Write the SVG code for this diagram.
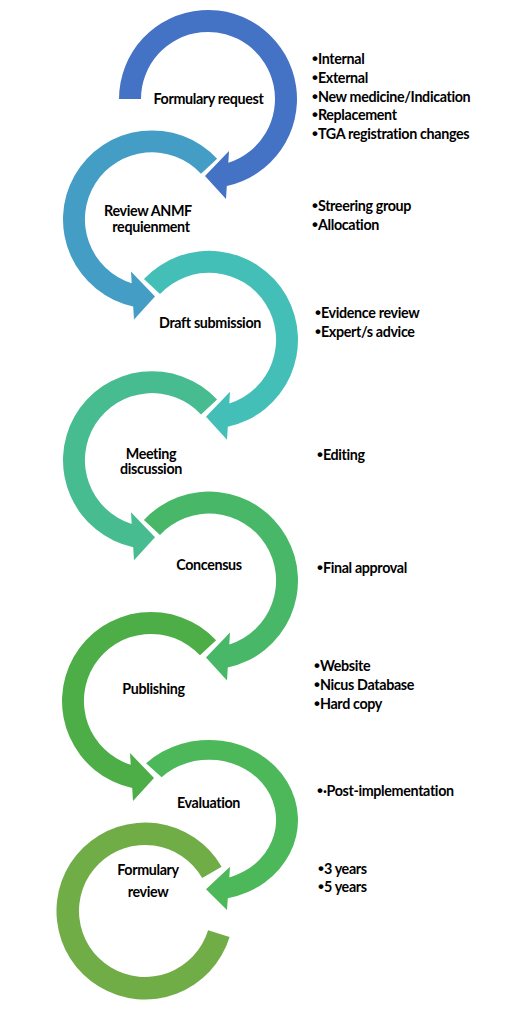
<svg xmlns="http://www.w3.org/2000/svg" width="514" height="1024" viewBox="0 0 514 1024">
<style>
text { font-family: Lato, 'Liberation Sans', sans-serif; font-weight: 700; font-size: 14.3px; letter-spacing: -0.35px; fill: #000; }
.c { text-anchor: middle; }
.b { font-family: 'Liberation Sans', sans-serif; font-size: 17px; letter-spacing: 0; }
</style>
<defs>
<path id="arrA" d="M -65.09 -60.70 A 89 89 0 1 1 18.8 87 L 18 100 L -3 77 L 21 52 L 20.3 63.8 A 67 67 0 1 0 -49.0 -45.69 Z"/>
</defs>
<rect width="514" height="1024" fill="#ffffff"/>
<g id="connectors"></g>
<g id="node1">
<path transform="translate(208,99)" fill="#4472C4" d="M -89 0 A 89 89 0 1 1 18.8 87 L 18 100 L -3 77 L 21 52 L 20.3 63.8 A 67 67 0 1 0 -67 0 Z"/>
<text class="c" x="208.5" y="104">Formulary request</text>
<text x="312" y="64"><tspan class="b">•</tspan>Internal</text>
<text x="312" y="82.8"><tspan class="b">•</tspan>External</text>
<text x="312" y="101.5"><tspan class="b">•</tspan>New medicine/Indication</text>
<text x="312" y="120.3"><tspan class="b">•</tspan>Replacement</text>
<text x="312" y="139"><tspan class="b">•</tspan>TGA registration changes</text>
</g>
<g id="node2">
<use href="#arrA" transform="translate(152,219.4) scale(-1,1)" fill="#439DC4"/>
<text class="c" x="148" y="216">Review ANMF</text>
<text class="c" x="151" y="232">requienment</text>
<text x="312" y="211"><tspan class="b">•</tspan>Streering group</text>
<text x="312" y="230"><tspan class="b">•</tspan>Allocation</text>
</g>
<g id="node3">
<use href="#arrA" transform="translate(209,339.8)" fill="#44BFB8"/>
<text class="c" x="210" y="328">Draft submission</text>
<text x="315" y="317.5"><tspan class="b">•</tspan>Evidence review</text>
<text x="315" y="336.5"><tspan class="b">•</tspan>Expert/s advice</text>
</g>
<g id="node4">
<use href="#arrA" transform="translate(152,460.2) scale(-1,1)" fill="#46BC90"/>
<text class="c" x="151" y="458.5">Meeting</text>
<text class="c" x="151" y="474">discussion</text>
<text x="317" y="460"><tspan class="b">•</tspan>Editing</text>
</g>
<g id="node5">
<use href="#arrA" transform="translate(209,580.6)" fill="#48B868"/>
<text class="c" x="209" y="570">Concensus</text>
<text x="317" y="572.5"><tspan class="b">•</tspan>Final approval</text>
</g>
<g id="node6">
<use href="#arrA" transform="translate(151,701) scale(-1,1)" fill="#4DAE48"/>
<text class="c" x="153.5" y="693.5">Publishing</text>
<text x="314" y="671"><tspan class="b">•</tspan>Website</text>
<text x="314" y="690"><tspan class="b">•</tspan>Nicus Database</text>
<text x="314" y="709"><tspan class="b">•</tspan>Hard copy</text>
</g>
<g id="node7">
<path transform="translate(209,820) scale(1,0.9)" fill="#4CB85A" d="M -62.93 -62.93 A 89 89 0 1 1 18.8 87 L 18 100 L -3 77 L 21 52 L 20.3 63.8 A 67 67 0 1 0 -47.38 -47.38 Z"/>
<text class="c" x="208.5" y="807.5">Evaluation</text>
<text x="317" y="796"><tspan class="b">•</tspan>·Post-implementation</text>
</g>
<g id="node8">
<path transform="translate(145,911)" fill="#70AD47" d="M 84.6 25.9 A 88.5 88.5 0 1 1 76.6 -44.25 L 57.2 -33 A 66 66 0 1 0 63.1 19.3 Z"/>
<text class="c" x="148" y="875">Formulary</text>
<text class="c" x="148" y="896.5">review</text>
<text x="318" y="873.5"><tspan class="b">•</tspan>3 years</text>
<text x="318" y="892"><tspan class="b">•</tspan>5 years</text>
</g>
</svg>
